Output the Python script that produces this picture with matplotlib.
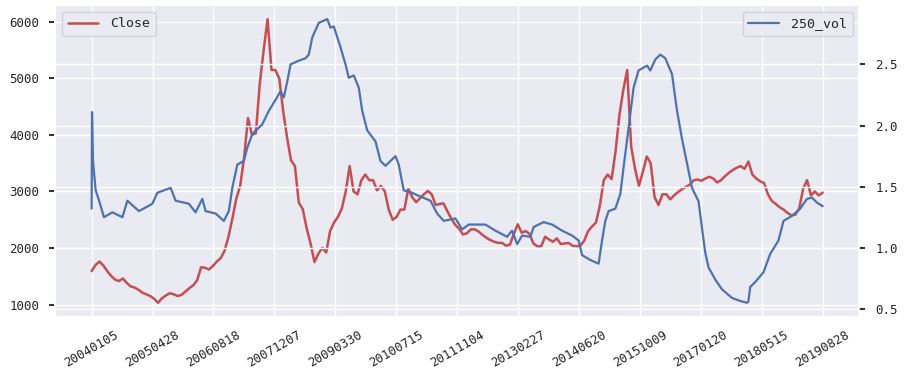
"""Indice de clôture et volatilité glissante 250 jours."""

import numpy as np
import matplotlib
matplotlib.use("Agg")
import matplotlib.pyplot as plt
import seaborn as sns
from matplotlib import font_manager

# --- données -----------------------------------------------------------
n_days = 3805  # jours de bourse du 20040105 au 20190828
tick_step = 317

tick_labels = ["20040105", "20050428", "20060818", "20071207", "20090330",
               "20100715", "20111104", "20130227", "20140620", "20151009",
               "20170120", "20180515", "20190828"]

# clôture, un point par mois (janv. 2004 -> août 2019)
close = [
    1590, 1700, 1760, 1690, 1590, 1505, 1440, 1415, 1460, 1380, 1320, 1300,
    1260, 1210, 1180, 1150, 1100, 1030, 1110, 1160, 1200, 1180, 1150, 1170,
    1230, 1290, 1340, 1430, 1660, 1650, 1620, 1680, 1760, 1820, 1950, 2200,
    2520, 2870, 3100, 3600, 4300, 4000, 4030, 4900, 5500, 6050, 5150, 5150,
    5000, 4420, 3950, 3550, 3450, 2800, 2690, 2350, 2080, 1750, 1900, 2000,
    1920, 2300, 2450, 2550, 2700, 3000, 3450, 3000, 2950, 3200, 3300, 3200,
    3200, 3020, 3100, 3000, 2680, 2500, 2550, 2680, 2680, 3050, 2900, 2810,
    2880, 2950, 3010, 2950, 2760, 2780, 2790, 2650, 2520, 2410, 2340, 2240,
    2260, 2330, 2330, 2290, 2230, 2180, 2140, 2110, 2090, 2090, 2040, 2060,
    2250, 2420, 2270, 2300, 2250, 2080, 2030, 2030, 2200, 2150, 2110, 2170,
    2070, 2080, 2090, 2040, 2030, 2040, 2130, 2300, 2380, 2450, 2750, 3200,
    3300, 3220, 3700, 4350, 4800, 5150, 3800, 3400, 3100, 3350, 3620, 3500,
    2900, 2760, 2950, 2950, 2860, 2930, 2990, 3040, 3080, 3120, 3200, 3210,
    3190, 3230, 3260, 3230, 3160, 3200, 3270, 3330, 3380, 3420, 3450, 3400,
    3530, 3300, 3230, 3180, 3150, 2950, 2830, 2780, 2720, 2680, 2620, 2580,
    2590, 2700, 3050, 3200, 2930, 3000, 2930, 2980,
]

# volatilité 250 jours : (jour de bourse, valeur)
vol_day = [
    0, 2, 7, 21, 38, 64, 108, 160, 186, 246, 316, 342, 411, 437, 506, 541,
    576, 593, 645, 688, 714, 732, 758, 792, 810, 836, 888, 922, 957, 983,
    1000, 1018, 1035, 1078, 1113, 1130, 1148, 1182, 1226, 1243, 1260, 1295,
    1321, 1338, 1364, 1390, 1408, 1434, 1477, 1503, 1529, 1581, 1598, 1624,
    1668, 1694, 1763, 1798, 1832, 1893, 1928, 1962, 2014, 2049, 2101, 2162,
    2188, 2214, 2240, 2283, 2300, 2352, 2396, 2448, 2500, 2534, 2552, 2595,
    2638, 2656, 2673, 2690, 2725, 2751, 2768, 2794, 2820, 2846, 2890, 2907,
    2933, 2959, 2985, 3020, 3046, 3072, 3124, 3158, 3176, 3193, 3210, 3245,
    3280, 3332, 3375, 3410, 3417, 3427, 3453, 3496, 3531, 3574, 3600, 3644,
    3687, 3722, 3748, 3774, 3804,
]
vol_250 = [
    1.32, 2.11, 1.71, 1.47, 1.39, 1.25, 1.29, 1.25, 1.385, 1.30, 1.36, 1.45,
    1.49, 1.385, 1.36, 1.29, 1.40, 1.30, 1.28, 1.22, 1.30, 1.49, 1.68, 1.71,
    1.82, 1.93, 2.01, 2.12, 2.21, 2.28, 2.23, 2.36, 2.50, 2.53, 2.55, 2.58,
    2.72, 2.84, 2.87, 2.80, 2.81, 2.64, 2.50, 2.39, 2.41, 2.31, 2.12, 1.96,
    1.87, 1.71, 1.67, 1.75, 1.68, 1.47, 1.45, 1.43, 1.385, 1.28, 1.22, 1.24,
    1.15, 1.19, 1.19, 1.19, 1.14, 1.09, 1.14, 1.03, 1.10, 1.09, 1.17, 1.21,
    1.19, 1.14, 1.10, 1.06, 0.94, 0.90, 0.87, 1.06, 1.22, 1.30, 1.32, 1.44,
    1.66, 1.98, 2.31, 2.45, 2.49, 2.45, 2.54, 2.58, 2.55, 2.42, 2.12, 1.89,
    1.49, 1.38, 1.16, 0.96, 0.84, 0.74, 0.66, 0.59, 0.565, 0.55, 0.56, 0.68,
    0.72, 0.80, 0.95, 1.06, 1.22, 1.26, 1.32, 1.40, 1.41, 1.37, 1.34,
]

# --- style ---------------------------------------------------------------
sns.set_theme(style="darkgrid")
names = {f.name for f in font_manager.fontManager.ttflist}
if "Noto Sans Mono CJK SC" in names:
    family, fsize = ["Noto Sans Mono CJK SC", "DejaVu Sans Mono"], 11
else:
    family, fsize = ["DejaVu Sans Mono"], 9
plt.rcParams["font.family"] = family
plt.rcParams["axes.unicode_minus"] = False

fig = plt.figure(figsize=(9.18, 3.81), dpi=100)
ax1 = fig.add_subplot(111)
fig.subplots_adjust(left=0.06, right=0.936, bottom=0.168, top=0.987)

leg_kw = dict(fontsize=fsize + 0.5, handlelength=2.3, handletextpad=0.9,
              borderpad=0.45)

close_x = np.linspace(0, n_days - 1, len(close))
ax1.plot(close_x, close, "r", linewidth=1.8, label="Close")
ax1.legend(loc="upper left", **leg_kw)

ax2 = ax1.twinx()
ax2.plot(vol_day, vol_250, "b", linewidth=1.6, label="250_vol")
ax2.legend(loc="upper right", **leg_kw)

ax1.set_xticks(np.arange(0, n_days, tick_step))
ax1.set_xticklabels(tick_labels, rotation=30, fontsize=fsize)
ax1.tick_params(axis="x", bottom=False, pad=2, colors=".15")

# petits traits de graduation sur les deux axes verticaux
tick_kw = dict(length=4.5, width=1.5, color="#333333", direction="out",
               pad=7, labelsize=fsize, labelcolor=".15")
ax1.yaxis.set_tick_params(which="major", left=True, right=False, **tick_kw)
ax2.yaxis.set_tick_params(which="major", right=True, left=False, **tick_kw)

fig.savefig("out.png", dpi=100)
